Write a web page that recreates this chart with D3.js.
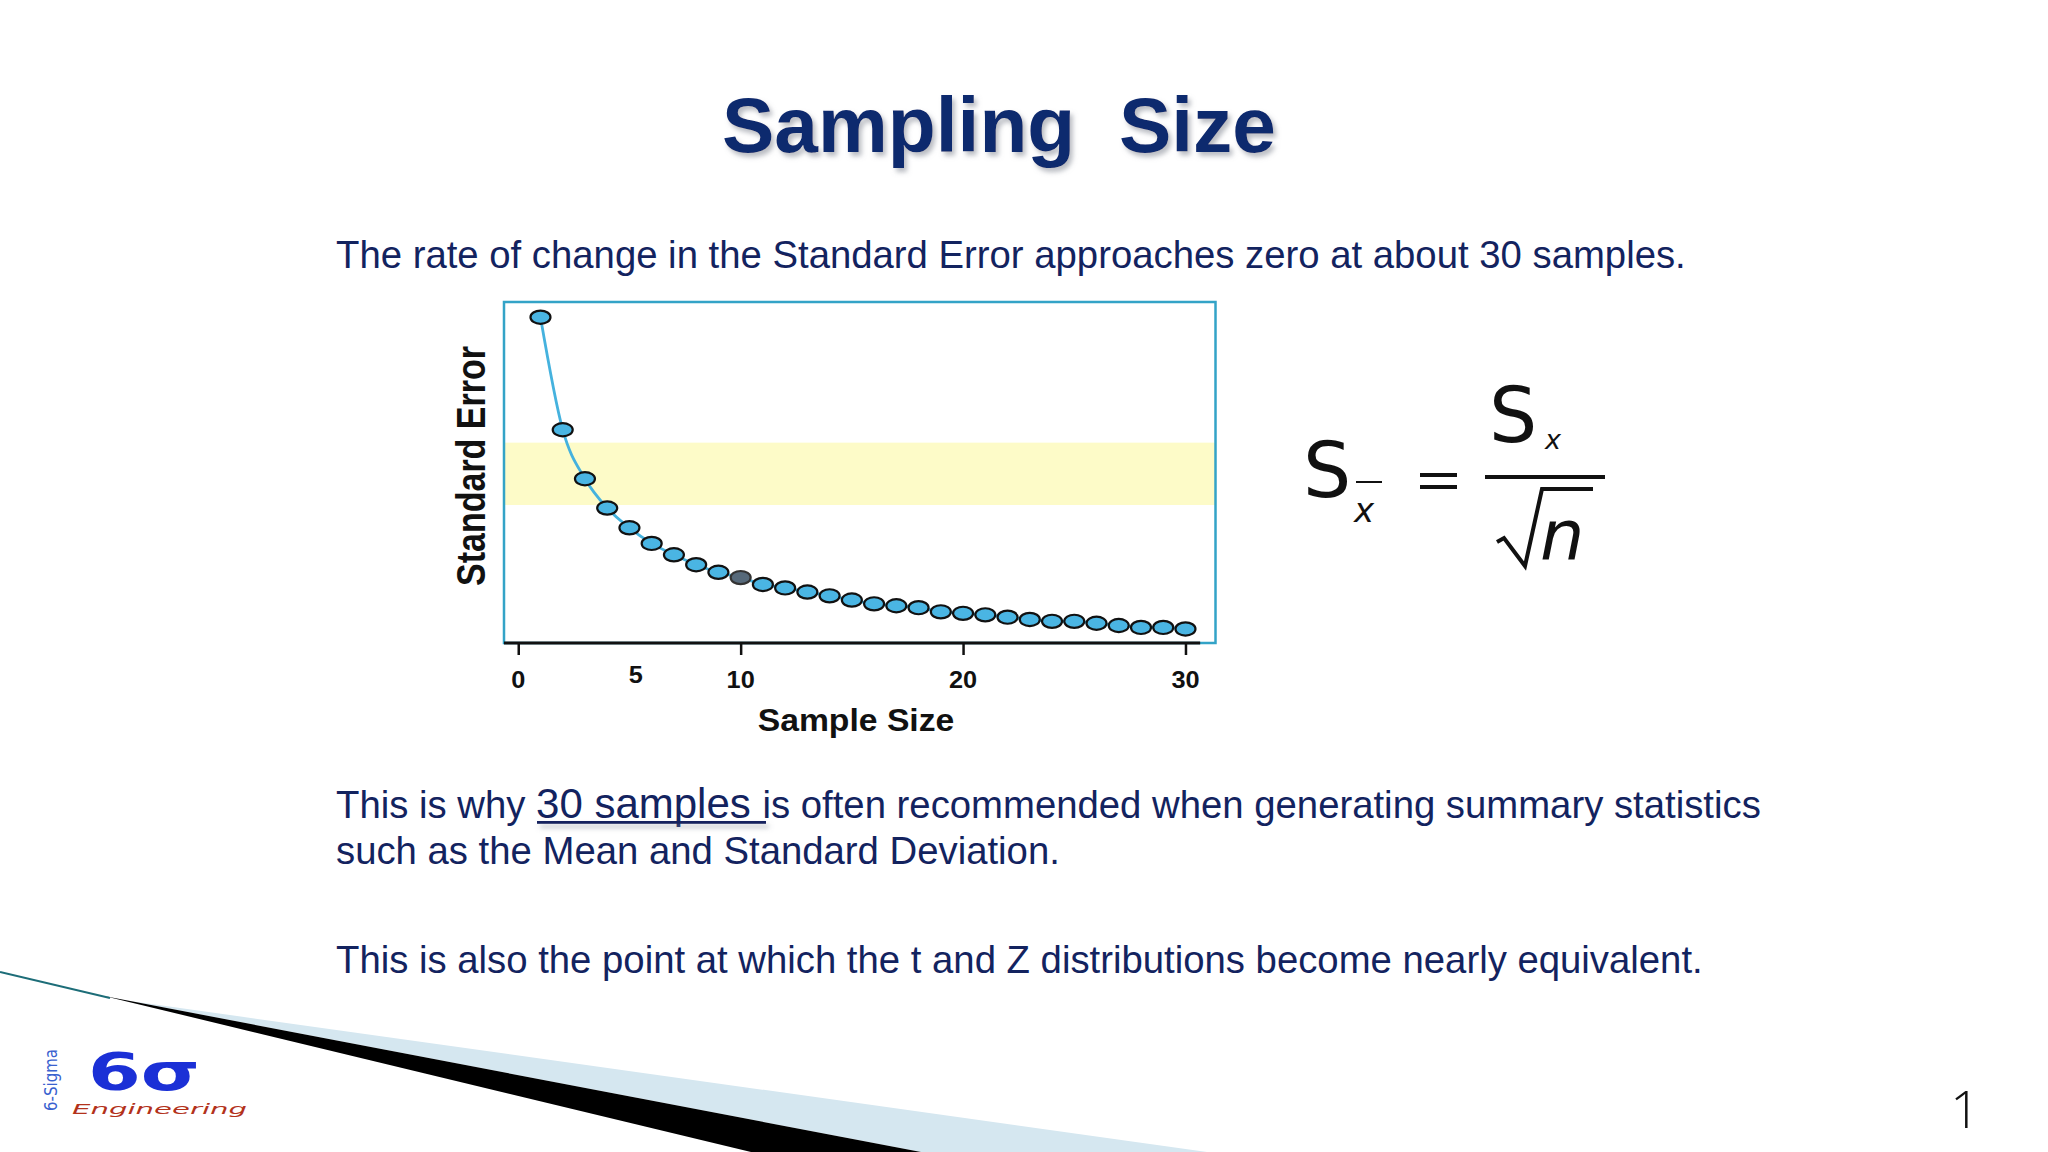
<!DOCTYPE html>
<html>
<head>
<meta charset="utf-8">
<script src="https://cdn.jsdelivr.net/npm/d3@7"></script>
<style>
  html, body { margin: 0; padding: 0; background: #fff; }
  svg { display: block; font-family: Arial, "Liberation Sans", sans-serif; }
</style>
</head>
<body>
<svg id="slide" width="2048" height="1152"></svg>
<script>
// sample sizes on the x axis
var sampleSize = [1, 2, 3, 4, 5, 6, 7, 8, 9, 10, 11, 12, 13, 14, 15,
                  16, 17, 18, 19, 20, 21, 22, 23, 24, 25, 26, 27, 28, 29, 30];
// standard error (sigma = 1)
var standardError = [1.000, 0.704, 0.575, 0.498, 0.446, 0.405, 0.375, 0.349, 0.329, 0.315,
                     0.297, 0.288, 0.277, 0.267, 0.256, 0.246, 0.241, 0.236, 0.225, 0.221,
                     0.217, 0.211, 0.205, 0.200, 0.200, 0.195, 0.189, 0.184, 0.184, 0.180];
var xTickValues = [0, 10, 20, 30];
var xExtraLabel = [5];
var highlightBand = [0.506, 0.670];
var xDomain = [-0.64, 31.35];
var yDomain = [0.143, 1.04];

var navy = "#13235f";
var svg = d3.select("#slide");
var defs = svg.append("defs");

var shadow = defs.append("filter").attr("id", "shadow")
    .attr("filterUnits", "userSpaceOnUse")
    .attr("x", 0).attr("y", 0).attr("width", 2048).attr("height", 1152);
shadow.append("feDropShadow").attr("dx", 3).attr("dy", 4).attr("stdDeviation", 2.5)
    .attr("flood-color", "#8a8f9a").attr("flood-opacity", 0.6);

/* bottom-left swoosh */
svg.append("path")
    .attr("d", "M130,1001 L1207,1152 L921,1152 Z")
    .attr("fill", "#d5e7f0");
svg.append("path")
    .attr("d", "M104,996 L921,1152 L751,1152 Z")
    .attr("fill", "#000");
svg.append("line")
    .attr("x1", 0).attr("y1", 972).attr("x2", 110).attr("y2", 998)
    .attr("stroke", "#1d6d78").attr("stroke-width", 2);

/* title */
svg.append("text")
    .attr("x", 999).attr("y", 152)
    .attr("text-anchor", "middle")
    .attr("font-size", 78.5).attr("font-weight", "bold")
    .attr("fill", "#102a6e")
    .attr("filter", "url(#shadow)")
    .style("white-space", "pre")
    .text("Sampling  Size");

/* body text */
svg.append("text")
    .attr("x", 336).attr("y", 268)
    .attr("font-size", 38.3).attr("fill", navy)
    .text("The rate of change in the Standard Error approaches zero at about 30 samples.");

var para = svg.append("text").attr("font-size", 38.3).attr("fill", navy);
var l1 = para.append("tspan").attr("x", 336).attr("y", 818);
l1.append("tspan").text("This is why ");
l1.append("tspan").attr("font-size", 42).text("30 samples ");
l1.append("tspan").text("is often recommended when generating summary statistics");
para.append("tspan").attr("x", 336).attr("y", 864)
    .text("such as the Mean and Standard Deviation.");

svg.append("rect")
    .attr("x", 537).attr("y", 821).attr("width", 229).attr("height", 2.8)
    .attr("fill", navy)
    .attr("filter", "url(#shadow)");

svg.append("text")
    .attr("x", 336).attr("y", 973)
    .attr("font-size", 38.3).attr("fill", navy)
    .text("This is also the point at which the t and Z distributions become nearly equivalent.");

/* chart */
var x = d3.scaleLinear().domain(xDomain).range([504, 1215.5]);
var y = d3.scaleLinear().domain(yDomain).range([643, 302]);
var chart = svg.append("g");

chart.append("rect")
    .attr("x", x(xDomain[0])).attr("y", y(highlightBand[1]))
    .attr("width", x(xDomain[1]) - x(xDomain[0]))
    .attr("height", y(highlightBand[0]) - y(highlightBand[1]))
    .attr("fill", "#fdfbc8");

chart.append("rect")
    .attr("x", x(xDomain[0])).attr("y", y(yDomain[1]))
    .attr("width", x(xDomain[1]) - x(xDomain[0]))
    .attr("height", y(yDomain[0]) - y(yDomain[1]))
    .attr("fill", "none").attr("stroke", "#33a3c7").attr("stroke-width", 2.5);

var points = sampleSize.map(function (n, i) {
    return { n: n, se: standardError[i] };
});

chart.append("path")
    .datum(points)
    .attr("fill", "none")
    .attr("stroke", "#45b2de").attr("stroke-width", 2.8)
    .attr("d", d3.line()
        .x(function (d) { return x(d.n); })
        .y(function (d) { return y(d.se); })
        .curve(d3.curveMonotoneX));

chart.selectAll("ellipse.pt")
    .data(points)
    .enter()
    .append("ellipse")
    .attr("class", "pt")
    .attr("cx", function (d) { return x(d.n); })
    .attr("cy", function (d) { return y(d.se); })
    .attr("rx", 10).attr("ry", 6.6)
    .attr("fill", function (d) { return d.n === 10 ? "#56697a" : "#4ab5e3"; })
    .attr("stroke", function (d) { return d.n === 10 ? "#333" : "#111"; })
    .attr("stroke-width", 2.2);

// x axis
var axis = chart.append("g")
    .attr("transform", "translate(0," + y(yDomain[0]) + ")")
    .call(d3.axisBottom(x).tickValues(xTickValues).tickSize(12).tickFormat(""));
axis.select(".domain").remove();
axis.selectAll(".tick line").attr("stroke", "#111").attr("stroke-width", 2.5);

chart.append("line")
    .attr("x1", x(xDomain[0])).attr("x2", x(30.66))
    .attr("y1", y(yDomain[0])).attr("y2", y(yDomain[0]))
    .attr("stroke", "#111").attr("stroke-width", 3);

chart.selectAll("text.tick-label")
    .data(xTickValues)
    .enter()
    .append("text")
    .attr("class", "tick-label")
    .attr("transform", function (d) { return "translate(" + x(d) + ",688) scale(1.1,1)"; })
    .attr("text-anchor", "middle")
    .attr("font-size", 23).attr("font-weight", "bold").attr("fill", "#111")
    .text(function (d) { return d; });

chart.selectAll("text.extra-label")
    .data(xExtraLabel)
    .enter()
    .append("text")
    .attr("class", "extra-label")
    .attr("transform", function (d) { return "translate(" + x(d + 0.28) + ",683) scale(1.1,1)"; })
    .attr("text-anchor", "middle")
    .attr("font-size", 23).attr("font-weight", "bold").attr("fill", "#111")
    .text(function (d) { return d; });

chart.append("text")
    .attr("transform", "translate(856,731) scale(1.07,1)")
    .attr("text-anchor", "middle")
    .attr("font-size", 31.5).attr("font-weight", "bold").attr("fill", "#111")
    .text("Sample Size");

chart.append("text")
    .attr("transform", "translate(485,466) scale(1.2,1) rotate(-90)")
    .attr("text-anchor", "middle")
    .attr("font-size", 34).attr("font-weight", "bold").attr("fill", "#111")
    .text("Standard Error");

/* formula */
var f = svg.append("g").attr("font-family", "'DejaVu Sans', Verdana, sans-serif").attr("fill", "#111");
f.append("text").attr("x", 1303).attr("y", 497).attr("font-size", 76).text("S");
f.append("line").attr("x1", 1356).attr("x2", 1382).attr("y1", 482).attr("y2", 482)
    .attr("stroke", "#111").attr("stroke-width", 2);
f.append("text").attr("x", 1354).attr("y", 522).attr("font-size", 34).attr("font-style", "italic").text("x");
f.append("line").attr("x1", 1420).attr("x2", 1457).attr("y1", 475).attr("y2", 475)
    .attr("stroke", "#111").attr("stroke-width", 4);
f.append("line").attr("x1", 1420).attr("x2", 1457).attr("y1", 487).attr("y2", 487)
    .attr("stroke", "#111").attr("stroke-width", 4);
f.append("line").attr("x1", 1485).attr("x2", 1605).attr("y1", 477).attr("y2", 477)
    .attr("stroke", "#111").attr("stroke-width", 4);
f.append("text").attr("x", 1489).attr("y", 442).attr("font-size", 76).text("S");
f.append("text").attr("x", 1545).attr("y", 449).attr("font-size", 27).attr("font-style", "italic").text("x");
f.append("path")
    .attr("d", "M1497,542 L1504,538 L1525,566 L1542,489 L1593,489")
    .attr("fill", "none").attr("stroke", "#111").attr("stroke-width", 4)
    .attr("stroke-linejoin", "miter");
f.append("text").attr("x", 1540).attr("y", 560).attr("font-size", 70).attr("font-style", "italic").text("n");

/* logo */
svg.append("text")
    .attr("x", 88).attr("y", 1090)
    .attr("font-family", "'DejaVu Sans', sans-serif")
    .attr("font-size", 52).attr("font-weight", "bold").attr("fill", "#1b30d6")
    .attr("textLength", 112).attr("lengthAdjust", "spacingAndGlyphs")
    .text("6σ");
svg.append("text")
    .attr("x", 72).attr("y", 1114)
    .attr("font-family", "'DejaVu Sans', sans-serif")
    .attr("font-size", 14).attr("font-style", "italic").attr("fill", "#b3321b")
    .attr("textLength", 175).attr("lengthAdjust", "spacingAndGlyphs")
    .text("Engineering");
svg.append("text")
    .attr("transform", "translate(57,1111) rotate(-90)")
    .attr("font-family", "'DejaVu Sans', sans-serif")
    .attr("font-size", 17).attr("fill", "#3a62cf")
    .attr("textLength", 62).attr("lengthAdjust", "spacingAndGlyphs")
    .text("6-Sigma");

/* slide number */
svg.append("text")
    .attr("x", 1965).attr("y", 1128)
    .attr("text-anchor", "middle")
    .attr("font-family", "'Open Sans', sans-serif")
    .attr("font-size", 52).attr("font-weight", 300).attr("fill", "#111")
    .text("1");
</script>
</body>
</html>
